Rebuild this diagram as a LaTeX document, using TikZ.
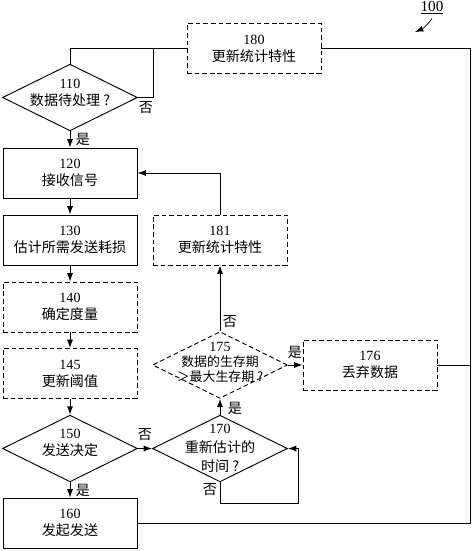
\documentclass[tikz,border=0pt]{standalone}
\usepackage{fontspec}
\setmainfont{Liberation Serif}
\newfontfamily\cjk{Noto Sans CJK SC}
\usetikzlibrary{shapes.geometric,arrows.meta}
\tikzset{
  blk/.style={draw,rectangle,minimum width=4.02cm,minimum height=1.5cm,align=center,inner sep=0pt},
  dblk/.style={blk,dash pattern=on 4pt off 2.5pt},
  dec/.style={draw,diamond,minimum width=4.05cm,minimum height=2cm,inner sep=0pt},
  ddec/.style={dec,dash pattern=on 4pt off 2.5pt},
  yn/.style={font=\cjk\fontsize{12}{14}\selectfont,inner sep=1pt}
}
\begin{document}
\begin{tikzpicture}[x=0.03cm,y=-0.03cm,line width=0.8pt,>={Latex[length=2.5mm,width=1.8mm]},
    every node/.style={font=\fontsize{12}{14.5}\selectfont}]
  \useasboundingbox (0,0) rectangle (474,551);
  \draw
    (254,48.5) node[dblk] (180){180\\{\cjk 更新统计特性}}
    (70,97.5) node[dec,label={[align=center,yshift=0.15cm]center:110\\{\cjk 数据待处理 ?}}] (110){}
    (70,173) node[blk] (120){120\\{\cjk 接收信号}}
    (70,240) node[blk] (130){130\\{\cjk 估计所需发送耗损}}
    (70,307) node[dblk] (140){140\\{\cjk 确定度量}}
    (70,373.5) node[dblk] (145){145\\{\cjk 更新阈值}}
    (70,448.5) node[dec,label={[align=center,yshift=0.18cm]center:150\\{\cjk 发送决定}}] (150){}
    (70,523) node[blk] (160){160\\{\cjk 发起发送}}
    (220,240) node[dblk] (181){181\\{\cjk 更新统计特性}}
    (220,365) node[ddec,label={[align=center,yshift=0.08cm,font=\fontsize{11}{13}\selectfont]center:{\fontsize{12}{13}\selectfont 175}\\{\cjk 数据的生存期}\\{\cjk ＞最大生存期 ?}}] (175){}
    (370,365) node[dblk] (176){176\\{\cjk 丢弃数据}}
    (220,448.5) node[dec,label={[align=center,font=\fontsize{12}{16}\selectfont]center:170\\{\cjk 重新估计的}\\{\cjk 时间 ?}}] (170){};
  \coordinate (j180) at (153,48);
  \coordinate (r160) at (470,523);
  \coordinate (r176) at (470,365);
  \coordinate (l170) at (298,503);
  % yes / no
  \node[yn] (y110) at (83,139) {是};
  \node[yn] (n110) at (146,108) {否};
  \node[yn] (n150) at (145,435) {否};
  \node[yn] (y150) at (83,490) {是};
  \node[yn] (n170) at (210,490) {否};
  \node[yn] (y170) at (235,408) {是};
  \node[yn] (n175) at (230,322) {否};
  \node[yn] (y175) at (295,352) {是};
  % reference numeral
  \node[font=\fontsize{13}{15}\selectfont] (100) at (432,8) {\underline{100}};
  \coordinate (p100) at (415,32);
  \draw[->,line width=0.6pt] (100.south) to[bend left=15] (p100);
  \begin{scope}[->]
    \draw (110) to (120);
    \draw (120) to (130);
    \draw (130) to (140);
    \draw (140) to (145);
    \draw (145) to (150);
    \draw (150) to (160);
    \draw (150) to (170);
    \draw (170) to (175);
    \draw (175) to (176);
    \draw (175) to (181);
    \draw (181.north) |- (120.east);
    \draw (170.south) |- (l170) |- (170.east);
  \end{scope}
  \begin{scope}[-]
    \draw (110.north) |- (180.west);
    \draw (110.east) -| (j180);
    \draw (160.east) -- (r160) |- (180.east);
    \draw (176.east) -- (r176);
  \end{scope}
\end{tikzpicture}
\end{document}
